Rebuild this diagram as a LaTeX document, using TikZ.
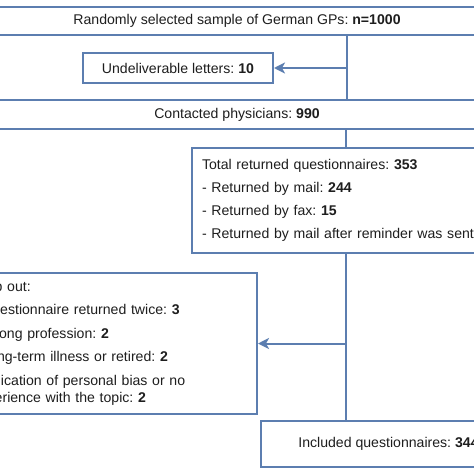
\documentclass[tikz,border=0pt]{standalone}
\usepackage{fontspec}
\setmainfont{Liberation Sans}
\usetikzlibrary{arrows.meta,calc}
\definecolor{boxblue}{RGB}{92,126,176}
\definecolor{txt}{RGB}{30,30,30}
\begin{document}
\frenchspacing
\begin{tikzpicture}[x=1pt,y=-1pt,
  boxstyle/.style={draw=boxblue,line width=2pt,fill=white,inner sep=0pt,text=txt,
    font=\fontsize{14.1}{17}\selectfont\frenchspacing},
  conn/.style={draw=boxblue,line width=2pt},
  arr/.style={conn,-{Stealth[length=11pt,width=11pt,inset=3pt]}}]
\useasboundingbox (0,0) rectangle (474,474);
\clip (0,0) rectangle (474,474);
\fill[white] (0,0) rectangle (474,474);
\node[boxstyle,minimum width=560pt,minimum height=28pt] (top) at (237,21)
  {Randomly selected sample of German GPs: \textbf{n=1000}};
\node[boxstyle,minimum width=190pt,minimum height=30pt] (und) at (178,68)
  {Undeliverable letters: \textbf{10}};
\node[boxstyle,minimum width=560pt,minimum height=29pt] (cont) at (237,114.5)
  {Contacted physicians: \textbf{990}};
\node[boxstyle,anchor=north west,minimum height=105pt,inner xsep=10pt,text width=340pt,align=left] (tot) at (191,147)
  {Total returned questionnaires: \textbf{353}\\[6pt]
   - Returned by mail: \textbf{244}\\[6pt]
   - Returned by fax: \textbf{15}\\[6pt]
   - Returned by mail after reminder was sent: \textbf{94}};
\node[boxstyle,anchor=north east,minimum height=141pt,inner xsep=15pt,text width=270pt,align=left] (exc) at (258,272)
  {Drop out:\\[6.5pt]
   - Questionnaire returned twice: \textbf{3}\\[6.5pt]
   - Wrong profession: \textbf{2}\\[6.5pt]
   - Long-term illness or retired: \textbf{2}\\[6.5pt]
   - Indication of personal bias or no\\
   experience with the topic: \textbf{2}};
\node[boxstyle,anchor=north west,minimum width=255pt,minimum height=46pt] (inc) at (260,420)
  {Included questionnaires: \textbf{344}};
\coordinate (va) at (347,0);
\coordinate (vb) at (346,0);
\draw[conn] (top.south -| va) -- (cont.north -| va);
\draw[arr] (und.east -| va) -- (und.east);
\draw[conn] (cont.south -| vb) -- (tot.north -| vb);
\draw[conn] (tot.south -| vb) -- (inc.north -| vb);
\draw[arr] (exc.east -| vb) -- (exc.east);
\end{tikzpicture}
\end{document}
